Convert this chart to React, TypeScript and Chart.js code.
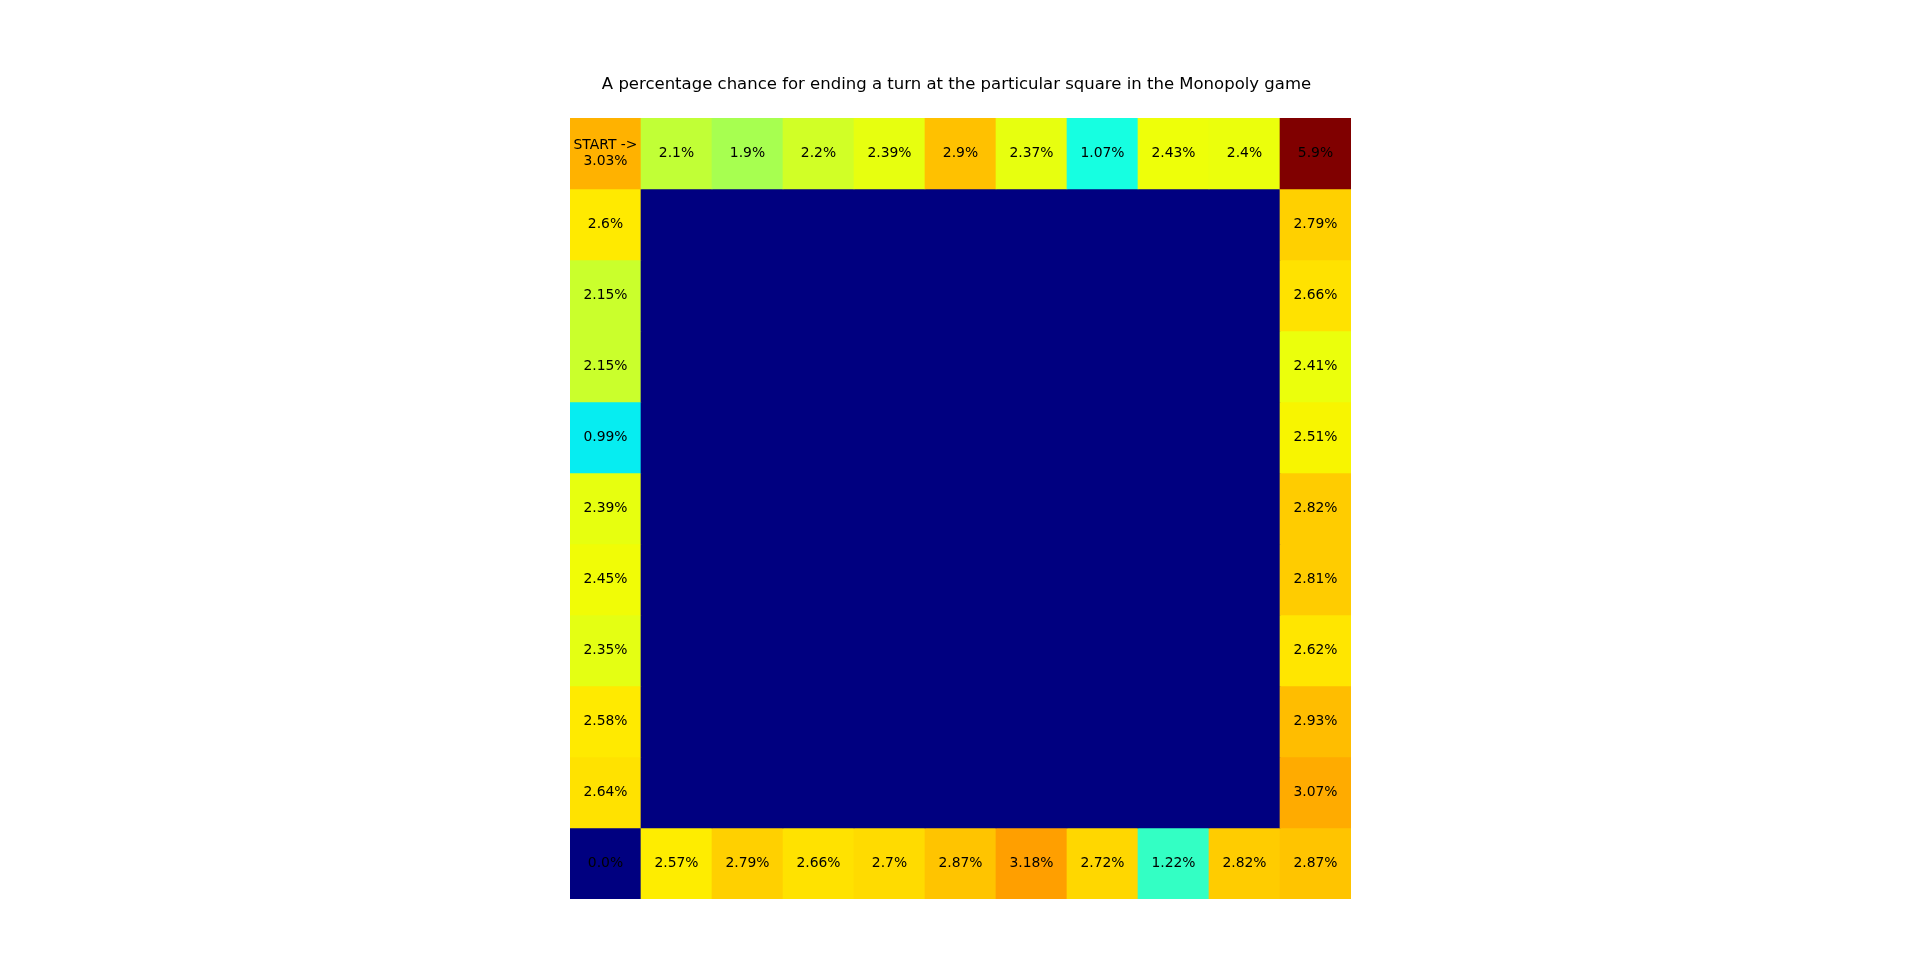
import React, { useEffect, useRef } from "react";
import { Chart, registerables } from "chart.js";

Chart.register(...registerables);

// Landing probabilities (%) for the 40 board squares, in playing order starting at GO.
const topRow = [3.03, 2.1, 1.9, 2.2, 2.39, 2.9, 2.37, 1.07, 2.43, 2.4, 5.9]; // squares 0-10, left to right
const rightColumn = [2.79, 2.66, 2.41, 2.51, 2.82, 2.81, 2.62, 2.93, 3.07]; // squares 11-19, top to bottom
const bottomRow = [2.87, 2.82, 1.22, 2.72, 3.18, 2.87, 2.7, 2.66, 2.79, 2.57, 0.0]; // squares 20-30, right to left
const leftColumn = [2.64, 2.58, 2.35, 2.45, 2.39, 0.99, 2.15, 2.15, 2.6]; // squares 31-39, bottom to top

const SIZE = 11;
const TITLE = "A percentage chance for ending a turn at the particular square in the Monopoly game";
const START_LABEL = "START ->";
const columnLabels = Array.from({ length: SIZE }, (_, i) => String(i));

// Lay the board out on an 11x11 grid; the middle stays at zero.
function buildGrid(): { value: number; onBoard: boolean }[][] {
  const grid = Array.from({ length: SIZE }, () =>
    Array.from({ length: SIZE }, () => ({ value: 0, onBoard: false }))
  );
  topRow.forEach((v, c) => (grid[0][c] = { value: v, onBoard: true }));
  rightColumn.forEach((v, i) => (grid[1 + i][SIZE - 1] = { value: v, onBoard: true }));
  bottomRow.forEach((v, i) => (grid[SIZE - 1][SIZE - 1 - i] = { value: v, onBoard: true }));
  leftColumn.forEach((v, i) => (grid[SIZE - 2 - i][0] = { value: v, onBoard: true }));
  return grid;
}

// matplotlib "jet" colormap segments
const JET: Record<"r" | "g" | "b", [number, number][]> = {
  r: [[0, 0], [0.35, 0], [0.66, 1], [0.89, 1], [1, 0.5]],
  g: [[0, 0], [0.125, 0], [0.375, 1], [0.64, 1], [0.91, 0], [1, 0]],
  b: [[0, 0.5], [0.11, 1], [0.34, 1], [0.65, 0], [1, 0]],
};

function seg(points: [number, number][], t: number): number {
  for (let i = 1; i < points.length; i++) {
    const [x0, y0] = points[i - 1];
    const [x1, y1] = points[i];
    if (t <= x1) return y0 + ((t - x0) / (x1 - x0)) * (y1 - y0);
  }
  return points[points.length - 1][1];
}

function jet(t: number): string {
  const idx = Math.min(255, Math.max(0, Math.floor(t * 256)));
  const u = idx / 255;
  const r = Math.round(seg(JET.r, u) * 255);
  const g = Math.round(seg(JET.g, u) * 255);
  const b = Math.round(seg(JET.b, u) * 255);
  return `rgb(${r},${g},${b})`;
}

function formatPct(v: number): string {
  return (Number.isInteger(v) ? v.toFixed(1) : String(v)) + "%";
}

export default function App() {
  const canvasRef = useRef<HTMLCanvasElement | null>(null);

  useEffect(() => {
    document.body.style.margin = "0";
    const canvas = canvasRef.current;
    if (!canvas) return;

    const grid = buildGrid();
    const all = grid.flat().map((c) => c.value);
    const vmax = Math.max(...all);
    const norm = (v: number) => Math.log1p(v) / Math.log1p(vmax);

    const datasets = grid.map((row, r) => ({
      label: `row ${r}`,
      data: row.map(() => [r, r + 1] as [number, number]),
      backgroundColor: row.map((c) => jet(norm(c.value))),
      borderWidth: 0,
      barPercentage: 1,
      categoryPercentage: 1,
      grouped: false,
    }));

    // Percentages in the board squares, plus the heading above the board.
    const cellText = {
      id: "cellText",
      afterDatasetsDraw(chart: Chart) {
        const ctx = chart.ctx;
        ctx.save();
        ctx.font = '13.9px "DejaVu Sans"';
        ctx.fillStyle = "#000";
        ctx.textAlign = "center";
        ctx.textBaseline = "middle";
        grid.forEach((row, r) => {
          const meta = chart.getDatasetMeta(r);
          row.forEach((cell, c) => {
            if (!cell.onBoard) return;
            const el: any = meta.data[c];
            const x = el.x;
            const y = (el.y + el.base) / 2;
            if (r === 0 && c === 0) {
              ctx.fillText(START_LABEL, x, y - 8.3);
              ctx.fillText(formatPct(cell.value), x, y + 8.3);
            } else {
              ctx.fillText(formatPct(cell.value), x, y);
            }
          });
        });

        const area = chart.chartArea;
        ctx.font = '16.5px "DejaVu Sans"';
        ctx.textBaseline = "alphabetic";
        ctx.fillText(TITLE, (area.left + area.right) / 2 - 4, area.top - 29);
        ctx.restore();
      },
    };

    const chart = new Chart(canvas, {
      type: "bar",
      data: { labels: columnLabels, datasets: datasets as any },
      options: {
        responsive: false,
        animation: false,
        devicePixelRatio: 1,
        layout: { padding: { left: 570, right: 569, top: 118, bottom: 78 } },
        scales: {
          x: { type: "category", display: false, offset: true, grid: { display: false } },
          y: { type: "linear", display: false, min: 0, max: SIZE, reverse: true },
        },
        plugins: {
          legend: { display: false },
          tooltip: { enabled: false },
          title: { display: false },
        },
      },
      plugins: [cellText],
    });

    return () => chart.destroy();
  }, []);

  return (
    <div style={{ width: 1920, height: 977, background: "#fff" }}>
      <canvas ref={canvasRef} width={1920} height={977} style={{ display: "block" }} />
    </div>
  );
}
